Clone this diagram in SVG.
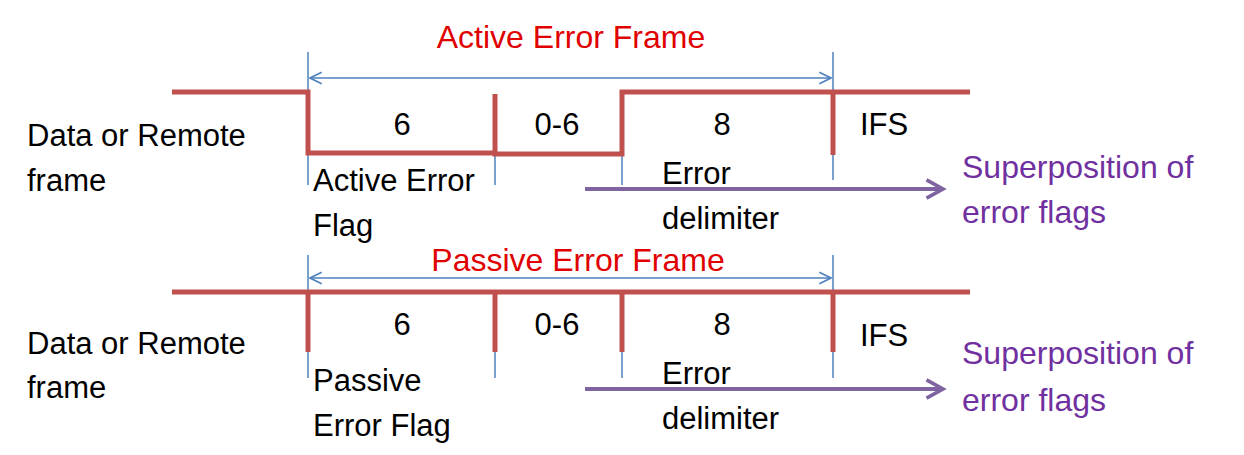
<svg xmlns="http://www.w3.org/2000/svg" width="1244" height="455" viewBox="0 0 1244 455">
<style>
text{font-family:"Liberation Sans",Arial,sans-serif;font-size:31px;fill:#000}
.t{fill:#e00000;font-size:32px}
.p{fill:#7030a0;font-size:32px}
.sig{fill:none;stroke:#c0504d;stroke-width:5}
.b{stroke:#4f81bd;stroke-width:1.5;fill:none}
.pa{stroke:#8064a2;stroke-width:4;fill:none}
</style>
<defs>
<marker id="oa" viewBox="0 0 12 12" refX="11" refY="6" markerWidth="14" markerHeight="14" markerUnits="userSpaceOnUse" orient="auto-start-reverse"><path d="M1 1 L11 6 L1 11" fill="none" stroke="#4f81bd" stroke-width="1.5"/></marker>
<marker id="pa" viewBox="0 0 12 12" refX="10" refY="6" markerWidth="22" markerHeight="22" markerUnits="userSpaceOnUse" orient="auto"><path d="M1 1 L10 6 L1 11" fill="none" stroke="#8064a2" stroke-width="2"/></marker>
</defs>
<g id="connectors">
<path class="b" d="M308 52V185M495 140V185M622 150V185M833 52V180"/>
<line class="b" x1="310" y1="78" x2="831" y2="78" marker-start="url(#oa)" marker-end="url(#oa)"/>
<path class="b" d="M308 255V378M495 340V378M622 340V378M833 255V378"/>
<line class="b" x1="310" y1="278" x2="831" y2="278" marker-start="url(#oa)" marker-end="url(#oa)"/>
<line class="pa" x1="585" y1="189" x2="943" y2="189" marker-end="url(#pa)"/>
<line class="pa" x1="585" y1="389" x2="943" y2="389" marker-end="url(#pa)"/>
</g>
<g id="active">
<path class="sig" d="M172 92H308V153H495V154H622V92H970M495 94V154M833 92V155"/>
<text class="t" x="571" y="48" text-anchor="middle">Active Error Frame</text>
<text x="27" y="146">Data or Remote</text>
<text x="27" y="191">frame</text>
<text x="402" y="135" text-anchor="middle">6</text>
<text x="557" y="135" text-anchor="middle">0-6</text>
<text x="722" y="135" text-anchor="middle">8</text>
<text x="860" y="135">IFS</text>
<text x="313" y="191">Active Error</text>
<text x="313" y="236">Flag</text>
<text x="662" y="184">Error</text>
<text x="662" y="229">delimiter</text>
<text class="p" x="962" y="178">Superposition of</text>
<text class="p" x="962" y="223">error flags</text>
</g>
<g id="passive">
<path class="sig" d="M172 292H970M308 292V352M495 292V352M622 292V352M833 292V352"/>
<text class="t" x="578" y="271" text-anchor="middle">Passive Error Frame</text>
<text x="27" y="354">Data or Remote</text>
<text x="27" y="398">frame</text>
<text x="402" y="335" text-anchor="middle">6</text>
<text x="557" y="335" text-anchor="middle">0-6</text>
<text x="722" y="335" text-anchor="middle">8</text>
<text x="860" y="346">IFS</text>
<text x="313" y="391">Passive</text>
<text x="313" y="436">Error Flag</text>
<text x="662" y="384">Error</text>
<text x="662" y="429">delimiter</text>
<text class="p" x="962" y="364">Superposition of</text>
<text class="p" x="962" y="411">error flags</text>
</g>
</svg>
